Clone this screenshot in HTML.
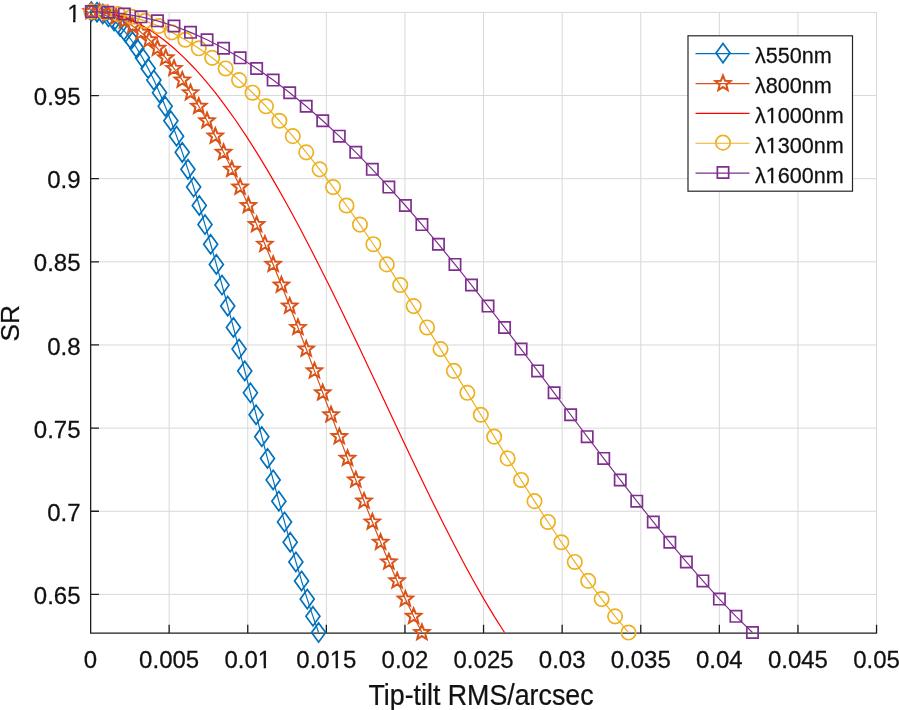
<!DOCTYPE html><html><head><meta charset="utf-8"><style>html,body{margin:0;padding:0;background:#fff;width:899px;height:710px;overflow:hidden}svg{display:block}text{font-family:"Liberation Sans",Arial,sans-serif;fill:#111111;stroke:#111111;stroke-width:0.25px}</style></head><body>
<svg width="899" height="710" viewBox="0 0 899 710">
<rect width="899" height="710" fill="#fff"/>
<path d="M169.15 12.4V633.1M247.75 12.4V633.1M326.35 12.4V633.1M404.95 12.4V633.1M483.55 12.4V633.1M562.15 12.4V633.1M640.75 12.4V633.1M719.35 12.4V633.1M797.95 12.4V633.1M876.55 12.4V633.1M90.55 12.40H876.55M90.55 95.54H876.55M90.55 178.69H876.55M90.55 261.83H876.55M90.55 344.97H876.55M90.55 428.11H876.55M90.55 511.26H876.55M90.55 594.40H876.55" stroke="#d8d8d8" stroke-width="1" fill="none"/>
<path d="M90.65 11.8V633.1H877.15M90.65 12.40H98.95M90.65 95.54H98.95M90.65 178.69H98.95M90.65 261.83H98.95M90.65 344.97H98.95M90.65 428.11H98.95M90.65 511.26H98.95M90.65 594.40H98.95M169.15 633.1V624.80M247.75 633.1V624.80M326.35 633.1V624.80M404.95 633.1V624.80M483.55 633.1V624.80M562.15 633.1V624.80M640.75 633.1V624.80M719.35 633.1V624.80M797.95 633.1V624.80M876.55 633.1V624.80" stroke="#1c1c1c" stroke-width="1.3" fill="none"/>
<path d="M91.35,11.61 97.03,12.19 102.71,13.93 108.39,16.83 114.08,20.87 119.76,26.05 125.44,32.35 131.12,39.77 136.80,48.27 142.48,57.84 148.16,68.46 153.85,80.09 159.53,92.71 165.21,106.29 170.89,120.77 176.57,136.14 182.25,152.34 187.94,169.34 193.62,187.08 199.30,205.51 204.98,224.58 210.66,244.23 216.34,264.41 222.02,285.05 227.71,306.09 233.39,327.46 239.07,349.08 244.75,370.90 250.43,392.82 256.11,414.76 261.80,436.66 267.48,458.42 273.16,479.95 278.84,501.16 284.52,521.96 290.20,542.26 295.88,561.95 301.57,580.92 307.25,599.09 312.93,616.33 318.61,632.53" stroke="#0072BD" stroke-width="1.2" fill="none" stroke-linejoin="round"/>
<path d="M91.35 2.01L98.35 11.61L91.35 21.21L84.35 11.61ZM97.03 2.59L104.03 12.19L97.03 21.79L90.03 12.19ZM102.71 4.33L109.71 13.93L102.71 23.53L95.71 13.93ZM108.39 7.23L115.39 16.83L108.39 26.43L101.39 16.83ZM114.08 11.27L121.08 20.87L114.08 30.47L107.08 20.87ZM119.76 16.45L126.76 26.05L119.76 35.65L112.76 26.05ZM125.44 22.75L132.44 32.35L125.44 41.95L118.44 32.35ZM131.12 30.17L138.12 39.77L131.12 49.37L124.12 39.77ZM136.80 38.67L143.80 48.27L136.80 57.87L129.80 48.27ZM142.48 48.24L149.48 57.84L142.48 67.44L135.48 57.84ZM148.16 58.86L155.16 68.46L148.16 78.06L141.16 68.46ZM153.85 70.49L160.85 80.09L153.85 89.69L146.85 80.09ZM159.53 83.11L166.53 92.71L159.53 102.31L152.53 92.71ZM165.21 96.69L172.21 106.29L165.21 115.89L158.21 106.29ZM170.89 111.17L177.89 120.77L170.89 130.37L163.89 120.77ZM176.57 126.54L183.57 136.14L176.57 145.74L169.57 136.14ZM182.25 142.74L189.25 152.34L182.25 161.94L175.25 152.34ZM187.94 159.74L194.94 169.34L187.94 178.94L180.94 169.34ZM193.62 177.48L200.62 187.08L193.62 196.68L186.62 187.08ZM199.30 195.91L206.30 205.51L199.30 215.11L192.30 205.51ZM204.98 214.98L211.98 224.58L204.98 234.18L197.98 224.58ZM210.66 234.63L217.66 244.23L210.66 253.83L203.66 244.23ZM216.34 254.81L223.34 264.41L216.34 274.01L209.34 264.41ZM222.02 275.45L229.02 285.05L222.02 294.65L215.02 285.05ZM227.71 296.49L234.71 306.09L227.71 315.69L220.71 306.09ZM233.39 317.86L240.39 327.46L233.39 337.06L226.39 327.46ZM239.07 339.48L246.07 349.08L239.07 358.68L232.07 349.08ZM244.75 361.30L251.75 370.90L244.75 380.50L237.75 370.90ZM250.43 383.22L257.43 392.82L250.43 402.42L243.43 392.82ZM256.11 405.16L263.11 414.76L256.11 424.36L249.11 414.76ZM261.80 427.06L268.80 436.66L261.80 446.26L254.80 436.66ZM267.48 448.82L274.48 458.42L267.48 468.02L260.48 458.42ZM273.16 470.35L280.16 479.95L273.16 489.55L266.16 479.95ZM278.84 491.56L285.84 501.16L278.84 510.76L271.84 501.16ZM284.52 512.36L291.52 521.96L284.52 531.56L277.52 521.96ZM290.20 532.66L297.20 542.26L290.20 551.86L283.20 542.26ZM295.88 552.35L302.88 561.95L295.88 571.55L288.88 561.95ZM301.57 571.32L308.57 580.92L301.57 590.52L294.57 580.92ZM307.25 589.49L314.25 599.09L307.25 608.69L300.25 599.09ZM312.93 606.73L319.93 616.33L312.93 625.93L305.93 616.33ZM318.61 622.93L325.61 632.53L318.61 642.13L311.61 632.53Z" stroke="#0072BD" stroke-width="1.7" fill="none"/>
<path d="M91.35,11.61 99.61,12.19 107.88,13.93 116.14,16.83 124.41,20.87 132.67,26.05 140.93,32.35 149.20,39.77 157.46,48.27 165.73,57.84 173.99,68.46 182.25,80.09 190.52,92.71 198.78,106.29 207.05,120.77 215.31,136.14 223.57,152.34 231.84,169.34 240.10,187.08 248.37,205.51 256.63,224.58 264.89,244.23 273.16,264.41 281.42,285.05 289.69,306.09 297.95,327.46 306.21,349.08 314.48,370.90 322.74,392.82 331.01,414.76 339.27,436.66 347.53,458.42 355.80,479.95 364.06,501.16 372.33,521.96 380.59,542.26 388.85,561.95 397.12,580.92 405.38,599.09 413.65,616.33 421.91,632.53" stroke="#D95319" stroke-width="1.2" fill="none" stroke-linejoin="round"/>
<path d="M91.35 3.61L93.41 8.78L98.96 9.14L94.68 12.69L96.05 18.08L91.35 15.11L86.65 18.08L88.02 12.69L83.74 9.14L89.29 8.78ZM99.61 4.19L101.67 9.36L107.22 9.72L102.94 13.27L104.32 18.66L99.61 15.69L94.91 18.66L96.29 13.27L92.01 9.72L97.56 9.36ZM107.88 5.93L109.94 11.10L115.49 11.46L111.21 15.01L112.58 20.40L107.88 17.43L103.18 20.40L104.55 15.01L100.27 11.46L105.82 11.10ZM116.14 8.83L118.20 13.99L123.75 14.35L119.47 17.91L120.84 23.30L116.14 20.33L111.44 23.30L112.81 17.91L108.53 14.35L114.08 13.99ZM124.41 12.87L126.46 18.04L132.01 18.40L127.73 21.95L129.11 27.34L124.41 24.37L119.70 27.34L121.08 21.95L116.80 18.40L122.35 18.04ZM132.67 18.05L134.73 23.22L140.28 23.58L136.00 27.13L137.37 32.52L132.67 29.55L127.97 32.52L129.34 27.13L125.06 23.58L130.61 23.22ZM140.93 24.35L142.99 29.52L148.54 29.88L144.26 33.44L145.64 38.83L140.93 35.85L136.23 38.83L137.61 33.44L133.33 29.88L138.88 29.52ZM149.20 31.77L151.26 36.94L156.81 37.30L152.53 40.85L153.90 46.24L149.20 43.27L144.50 46.24L145.87 40.85L141.59 37.30L147.14 36.94ZM157.46 40.27L159.52 45.44L165.07 45.80L160.79 49.35L162.16 54.74L157.46 51.77L152.76 54.74L154.13 49.35L149.85 45.80L155.40 45.44ZM165.73 49.84L167.78 55.01L173.33 55.37L169.05 58.93L170.43 64.32L165.73 61.34L161.02 64.32L162.40 58.93L158.12 55.37L163.67 55.01ZM173.99 60.46L176.05 65.63L181.60 65.99L177.32 69.54L178.69 74.93L173.99 71.96L169.29 74.93L170.66 69.54L166.38 65.99L171.93 65.63ZM182.25 72.09L184.31 77.26L189.86 77.62L185.58 81.18L186.96 86.57L182.25 83.59L177.55 86.57L178.93 81.18L174.65 77.62L180.20 77.26ZM190.52 84.71L192.58 89.88L198.13 90.24L193.85 93.79L195.22 99.19L190.52 96.21L185.82 99.19L187.19 93.79L182.91 90.24L188.46 89.88ZM198.78 98.29L200.84 103.45L206.39 103.81L202.11 107.37L203.48 112.76L198.78 109.79L194.08 112.76L195.45 107.37L191.17 103.81L196.72 103.45ZM207.05 112.77L209.10 117.94L214.65 118.30L210.37 121.86L211.75 127.25L207.05 124.27L202.34 127.25L203.72 121.86L199.44 118.30L204.99 117.94ZM215.31 128.14L217.37 133.31L222.92 133.67L218.64 137.22L220.01 142.61L215.31 139.64L210.61 142.61L211.98 137.22L207.70 133.67L213.25 133.31ZM223.57 144.34L225.63 149.51L231.18 149.87L226.90 153.43L228.28 158.82L223.57 155.84L218.87 158.82L220.25 153.43L215.97 149.87L221.52 149.51ZM231.84 161.34L233.90 166.51L239.45 166.87L235.17 170.42L236.54 175.81L231.84 172.84L227.14 175.81L228.51 170.42L224.23 166.87L229.78 166.51ZM240.10 179.08L242.16 184.25L247.71 184.60L243.43 188.16L244.80 193.55L240.10 190.58L235.40 193.55L236.77 188.16L232.49 184.60L238.04 184.25ZM248.37 197.51L250.42 202.68L255.97 203.04L251.69 206.59L253.07 211.98L248.37 209.01L243.66 211.98L245.04 206.59L240.76 203.04L246.31 202.68ZM256.63 216.58L258.69 221.75L264.24 222.11L259.96 225.66L261.33 231.05L256.63 228.08L251.93 231.05L253.30 225.66L249.02 222.11L254.57 221.75ZM264.89 236.23L266.95 241.40L272.50 241.76L268.22 245.31L269.60 250.71L264.89 247.73L260.19 250.71L261.57 245.31L257.29 241.76L262.84 241.40ZM273.16 256.41L275.22 261.58L280.77 261.94L276.49 265.49L277.86 270.88L273.16 267.91L268.46 270.88L269.83 265.49L265.55 261.94L271.10 261.58ZM281.42 277.05L283.48 282.22L289.03 282.58L284.75 286.13L286.12 291.52L281.42 288.55L276.72 291.52L278.09 286.13L273.81 282.58L279.36 282.22ZM289.69 298.09L291.74 303.26L297.29 303.62L293.01 307.17L294.39 312.56L289.69 309.59L284.98 312.56L286.36 307.17L282.08 303.62L287.63 303.26ZM297.95 319.46L300.01 324.63L305.56 324.99L301.28 328.54L302.65 333.93L297.95 330.96L293.25 333.93L294.62 328.54L290.34 324.99L295.89 324.63ZM306.21 341.08L308.27 346.25L313.82 346.61L309.54 350.17L310.92 355.56L306.21 352.58L301.51 355.56L302.89 350.17L298.61 346.61L304.16 346.25ZM314.48 362.90L316.54 368.06L322.09 368.42L317.81 371.98L319.18 377.37L314.48 374.40L309.78 377.37L311.15 371.98L306.87 368.42L312.42 368.06ZM322.74 384.82L324.80 389.98L330.35 390.34L326.07 393.90L327.44 399.29L322.74 396.32L318.04 399.29L319.41 393.90L315.13 390.34L320.68 389.98ZM331.01 406.76L333.06 411.93L338.61 412.29L334.33 415.85L335.71 421.24L331.01 418.26L326.30 421.24L327.68 415.85L323.40 412.29L328.95 411.93ZM339.27 428.66L341.33 433.83L346.88 434.19L342.60 437.74L343.97 443.13L339.27 440.16L334.57 443.13L335.94 437.74L331.66 434.19L337.21 433.83ZM347.53 450.42L349.59 455.59L355.14 455.94L350.86 459.50L352.24 464.89L347.53 461.92L342.83 464.89L344.21 459.50L339.93 455.94L345.48 455.59ZM355.80 471.95L357.86 477.12L363.41 477.48L359.13 481.03L360.50 486.42L355.80 483.45L351.10 486.42L352.47 481.03L348.19 477.48L353.74 477.12ZM364.06 493.16L366.12 498.33L371.67 498.69L367.39 502.24L368.76 507.63L364.06 504.66L359.36 507.63L360.73 502.24L356.45 498.69L362.00 498.33ZM372.33 513.96L374.38 519.13L379.93 519.49L375.65 523.05L377.03 528.44L372.33 525.46L367.62 528.44L369.00 523.05L364.72 519.49L370.27 519.13ZM380.59 534.26L382.65 539.43L388.20 539.79L383.92 543.34L385.29 548.73L380.59 545.76L375.89 548.73L377.26 543.34L372.98 539.79L378.53 539.43ZM388.85 553.95L390.91 559.12L396.46 559.48L392.18 563.03L393.56 568.42L388.85 565.45L384.15 568.42L385.53 563.03L381.25 559.48L386.80 559.12ZM397.12 572.92L399.18 578.09L404.73 578.45L400.45 582.01L401.82 587.40L397.12 584.42L392.42 587.40L393.79 582.01L389.51 578.45L395.06 578.09ZM405.38 591.09L407.44 596.26L412.99 596.61L408.71 600.17L410.08 605.56L405.38 602.59L400.68 605.56L402.05 600.17L397.77 596.61L403.32 596.26ZM413.65 608.33L415.70 613.49L421.25 613.85L416.97 617.41L418.35 622.80L413.65 619.83L408.94 622.80L410.32 617.41L406.04 613.85L411.59 613.49ZM421.91 624.53L423.97 629.70L429.52 630.06L425.24 633.61L426.61 639.00L421.91 636.03L417.21 639.00L418.58 633.61L414.30 630.06L419.85 629.70Z" stroke="#D95319" stroke-width="2.0" fill="none"/>
<path d="M91.35,11.61 101.68,12.19 112.01,13.93 122.34,16.83 132.67,20.87 143.00,26.05 153.33,32.35 163.66,39.77 173.99,48.27 184.32,57.84 194.65,68.46 204.98,80.09 215.31,92.71 225.64,106.29 235.97,120.77 246.30,136.14 256.63,152.34 266.96,169.34 277.29,187.08 287.62,205.51 297.95,224.58 308.28,244.23 318.61,264.41 328.94,285.05 339.27,306.09 349.60,327.46 359.93,349.08 370.26,370.90 380.59,392.82 390.92,414.76 401.25,436.66 411.58,458.42 421.91,479.95 432.24,501.16 442.57,521.96 452.90,542.26 463.23,561.95 473.56,580.92 483.89,599.09 494.22,616.33 504.55,632.53" stroke="#FF0000" stroke-width="1.2" fill="none" stroke-linejoin="round"/>
<path d="M91.35,11.61 104.78,12.19 118.21,13.93 131.64,16.83 145.07,20.87 158.50,26.05 171.92,32.35 185.35,39.77 198.78,48.27 212.21,57.84 225.64,68.46 239.07,80.09 252.50,92.71 265.93,106.29 279.36,120.77 292.78,136.14 306.21,152.34 319.64,169.34 333.07,187.08 346.50,205.51 359.93,224.58 373.36,244.23 386.79,264.41 400.22,285.05 413.65,306.09 427.07,327.46 440.50,349.08 453.93,370.90 467.36,392.82 480.79,414.76 494.22,436.66 507.65,458.42 521.08,479.95 534.51,501.16 547.94,521.96 561.37,542.26 574.79,561.95 588.22,580.92 601.65,599.09 615.08,616.33 628.51,632.53" stroke="#EDB120" stroke-width="1.2" fill="none" stroke-linejoin="round"/>
<path d="M84.15 11.61a7.2 7.2 0 1 0 14.4 0a7.2 7.2 0 1 0 -14.4 0ZM97.58 12.19a7.2 7.2 0 1 0 14.4 0a7.2 7.2 0 1 0 -14.4 0ZM111.01 13.93a7.2 7.2 0 1 0 14.4 0a7.2 7.2 0 1 0 -14.4 0ZM124.44 16.83a7.2 7.2 0 1 0 14.4 0a7.2 7.2 0 1 0 -14.4 0ZM137.87 20.87a7.2 7.2 0 1 0 14.4 0a7.2 7.2 0 1 0 -14.4 0ZM151.30 26.05a7.2 7.2 0 1 0 14.4 0a7.2 7.2 0 1 0 -14.4 0ZM164.72 32.35a7.2 7.2 0 1 0 14.4 0a7.2 7.2 0 1 0 -14.4 0ZM178.15 39.77a7.2 7.2 0 1 0 14.4 0a7.2 7.2 0 1 0 -14.4 0ZM191.58 48.27a7.2 7.2 0 1 0 14.4 0a7.2 7.2 0 1 0 -14.4 0ZM205.01 57.84a7.2 7.2 0 1 0 14.4 0a7.2 7.2 0 1 0 -14.4 0ZM218.44 68.46a7.2 7.2 0 1 0 14.4 0a7.2 7.2 0 1 0 -14.4 0ZM231.87 80.09a7.2 7.2 0 1 0 14.4 0a7.2 7.2 0 1 0 -14.4 0ZM245.30 92.71a7.2 7.2 0 1 0 14.4 0a7.2 7.2 0 1 0 -14.4 0ZM258.73 106.29a7.2 7.2 0 1 0 14.4 0a7.2 7.2 0 1 0 -14.4 0ZM272.16 120.77a7.2 7.2 0 1 0 14.4 0a7.2 7.2 0 1 0 -14.4 0ZM285.58 136.14a7.2 7.2 0 1 0 14.4 0a7.2 7.2 0 1 0 -14.4 0ZM299.01 152.34a7.2 7.2 0 1 0 14.4 0a7.2 7.2 0 1 0 -14.4 0ZM312.44 169.34a7.2 7.2 0 1 0 14.4 0a7.2 7.2 0 1 0 -14.4 0ZM325.87 187.08a7.2 7.2 0 1 0 14.4 0a7.2 7.2 0 1 0 -14.4 0ZM339.30 205.51a7.2 7.2 0 1 0 14.4 0a7.2 7.2 0 1 0 -14.4 0ZM352.73 224.58a7.2 7.2 0 1 0 14.4 0a7.2 7.2 0 1 0 -14.4 0ZM366.16 244.23a7.2 7.2 0 1 0 14.4 0a7.2 7.2 0 1 0 -14.4 0ZM379.59 264.41a7.2 7.2 0 1 0 14.4 0a7.2 7.2 0 1 0 -14.4 0ZM393.02 285.05a7.2 7.2 0 1 0 14.4 0a7.2 7.2 0 1 0 -14.4 0ZM406.45 306.09a7.2 7.2 0 1 0 14.4 0a7.2 7.2 0 1 0 -14.4 0ZM419.87 327.46a7.2 7.2 0 1 0 14.4 0a7.2 7.2 0 1 0 -14.4 0ZM433.30 349.08a7.2 7.2 0 1 0 14.4 0a7.2 7.2 0 1 0 -14.4 0ZM446.73 370.90a7.2 7.2 0 1 0 14.4 0a7.2 7.2 0 1 0 -14.4 0ZM460.16 392.82a7.2 7.2 0 1 0 14.4 0a7.2 7.2 0 1 0 -14.4 0ZM473.59 414.76a7.2 7.2 0 1 0 14.4 0a7.2 7.2 0 1 0 -14.4 0ZM487.02 436.66a7.2 7.2 0 1 0 14.4 0a7.2 7.2 0 1 0 -14.4 0ZM500.45 458.42a7.2 7.2 0 1 0 14.4 0a7.2 7.2 0 1 0 -14.4 0ZM513.88 479.95a7.2 7.2 0 1 0 14.4 0a7.2 7.2 0 1 0 -14.4 0ZM527.31 501.16a7.2 7.2 0 1 0 14.4 0a7.2 7.2 0 1 0 -14.4 0ZM540.74 521.96a7.2 7.2 0 1 0 14.4 0a7.2 7.2 0 1 0 -14.4 0ZM554.16 542.26a7.2 7.2 0 1 0 14.4 0a7.2 7.2 0 1 0 -14.4 0ZM567.59 561.95a7.2 7.2 0 1 0 14.4 0a7.2 7.2 0 1 0 -14.4 0ZM581.02 580.92a7.2 7.2 0 1 0 14.4 0a7.2 7.2 0 1 0 -14.4 0ZM594.45 599.09a7.2 7.2 0 1 0 14.4 0a7.2 7.2 0 1 0 -14.4 0ZM607.88 616.33a7.2 7.2 0 1 0 14.4 0a7.2 7.2 0 1 0 -14.4 0ZM621.31 632.53a7.2 7.2 0 1 0 14.4 0a7.2 7.2 0 1 0 -14.4 0Z" stroke="#EDB120" stroke-width="1.7" fill="none"/>
<path d="M91.35,11.61 107.88,12.19 124.41,13.93 140.93,16.83 157.46,20.87 173.99,26.05 190.52,32.35 207.05,39.77 223.57,48.27 240.10,57.84 256.63,68.46 273.16,80.09 289.69,92.71 306.21,106.29 322.74,120.77 339.27,136.14 355.80,152.34 372.33,169.34 388.85,187.08 405.38,205.51 421.91,224.58 438.44,244.23 454.97,264.41 471.49,285.05 488.02,306.09 504.55,327.46 521.08,349.08 537.61,370.90 554.13,392.82 570.66,414.76 587.19,436.66 603.72,458.42 620.25,479.95 636.77,501.16 653.30,521.96 669.83,542.26 686.36,561.95 702.89,580.92 719.41,599.09 735.94,616.33 752.47,632.53" stroke="#7E2F8E" stroke-width="1.2" fill="none" stroke-linejoin="round"/>
<path d="M85.70 5.96H97.00V17.26H85.70ZM102.23 6.54H113.53V17.84H102.23ZM118.76 8.28H130.06V19.58H118.76ZM135.28 11.18H146.58V22.48H135.28ZM151.81 15.22H163.11V26.52H151.81ZM168.34 20.40H179.64V31.70H168.34ZM184.87 26.70H196.17V38.00H184.87ZM201.40 34.12H212.70V45.42H201.40ZM217.92 42.62H229.22V53.92H217.92ZM234.45 52.19H245.75V63.49H234.45ZM250.98 62.81H262.28V74.11H250.98ZM267.51 74.44H278.81V85.74H267.51ZM284.04 87.06H295.34V98.36H284.04ZM300.56 100.64H311.86V111.94H300.56ZM317.09 115.12H328.39V126.42H317.09ZM333.62 130.49H344.92V141.79H333.62ZM350.15 146.69H361.45V157.99H350.15ZM366.68 163.69H377.98V174.99H366.68ZM383.20 181.43H394.50V192.73H383.20ZM399.73 199.86H411.03V211.16H399.73ZM416.26 218.93H427.56V230.23H416.26ZM432.79 238.58H444.09V249.88H432.79ZM449.32 258.76H460.62V270.06H449.32ZM465.84 279.40H477.14V290.70H465.84ZM482.37 300.44H493.67V311.74H482.37ZM498.90 321.81H510.20V333.11H498.90ZM515.43 343.43H526.73V354.73H515.43ZM531.96 365.25H543.26V376.55H531.96ZM548.48 387.17H559.78V398.47H548.48ZM565.01 409.11H576.31V420.41H565.01ZM581.54 431.01H592.84V442.31H581.54ZM598.07 452.77H609.37V464.07H598.07ZM614.60 474.30H625.90V485.60H614.60ZM631.12 495.51H642.42V506.81H631.12ZM647.65 516.31H658.95V527.61H647.65ZM664.18 536.61H675.48V547.91H664.18ZM680.71 556.30H692.01V567.60H680.71ZM697.24 575.27H708.54V586.57H697.24ZM713.76 593.44H725.06V604.74H713.76ZM730.29 610.68H741.59V621.98H730.29ZM746.82 626.88H758.12V638.18H746.82Z" stroke="#7E2F8E" stroke-width="1.7" fill="none"/>
<g transform="translate(80.50 21.99) scale(1.0 1.03)"><text class="t0" x="0" y="0" font-size="24" text-anchor="end">1</text><rect x="-12.48" y="-2.69" width="5.04" height="3.79" fill="#fff"/><rect x="-5.08" y="-2.69" width="4.85" height="3.79" fill="#fff"/></g>
<g transform="translate(80.50 105.14) scale(1.0 1.03)"><text class="t1" x="0" y="0" font-size="24" text-anchor="end">0.95</text></g>
<g transform="translate(80.50 188.28) scale(1.0 1.03)"><text class="t2" x="0" y="0" font-size="24" text-anchor="end">0.9</text></g>
<g transform="translate(80.50 271.42) scale(1.0 1.03)"><text class="t3" x="0" y="0" font-size="24" text-anchor="end">0.85</text></g>
<g transform="translate(80.50 354.56) scale(1.0 1.03)"><text class="t4" x="0" y="0" font-size="24" text-anchor="end">0.8</text></g>
<g transform="translate(80.50 437.71) scale(1.0 1.03)"><text class="t5" x="0" y="0" font-size="24" text-anchor="end">0.75</text></g>
<g transform="translate(80.50 520.85) scale(1.0 1.03)"><text class="t6" x="0" y="0" font-size="24" text-anchor="end">0.7</text></g>
<g transform="translate(80.50 603.99) scale(1.0 1.03)"><text class="t7" x="0" y="0" font-size="24" text-anchor="end">0.65</text></g>
<g transform="translate(90.55 668.30) scale(1.0 1.03)"><text class="t8" x="0" y="0" font-size="24" text-anchor="middle">0</text></g>
<g transform="translate(169.15 668.30) scale(1.0 1.03)"><text class="t9" x="0" y="0" font-size="24" text-anchor="middle">0.005</text></g>
<g transform="translate(247.75 668.30) scale(1.0 1.03)"><text class="t10" x="0" y="0" font-size="24" text-anchor="middle">0.01</text><rect x="10.88" y="-2.69" width="5.04" height="3.79" fill="#fff"/><rect x="18.27" y="-2.69" width="4.85" height="3.79" fill="#fff"/></g>
<g transform="translate(326.35 668.30) scale(1.0 1.03)"><text class="t11" x="0" y="0" font-size="24" text-anchor="middle">0.015</text><rect x="4.20" y="-2.69" width="5.04" height="3.79" fill="#fff"/><rect x="11.60" y="-2.69" width="4.85" height="3.79" fill="#fff"/></g>
<g transform="translate(404.95 668.30) scale(1.0 1.03)"><text class="t12" x="0" y="0" font-size="24" text-anchor="middle">0.02</text></g>
<g transform="translate(483.55 668.30) scale(1.0 1.03)"><text class="t13" x="0" y="0" font-size="24" text-anchor="middle">0.025</text></g>
<g transform="translate(562.15 668.30) scale(1.0 1.03)"><text class="t14" x="0" y="0" font-size="24" text-anchor="middle">0.03</text></g>
<g transform="translate(640.75 668.30) scale(1.0 1.03)"><text class="t15" x="0" y="0" font-size="24" text-anchor="middle">0.035</text></g>
<g transform="translate(719.35 668.30) scale(1.0 1.03)"><text class="t16" x="0" y="0" font-size="24" text-anchor="middle">0.04</text></g>
<g transform="translate(797.95 668.30) scale(1.0 1.03)"><text class="t17" x="0" y="0" font-size="24" text-anchor="middle">0.045</text></g>
<g transform="translate(876.55 668.30) scale(1.0 1.03)"><text class="t18" x="0" y="0" font-size="24" text-anchor="middle">0.05</text></g>
<g transform="translate(481.00 705.30) scale(0.93 1.0)"><text class="t19" x="0" y="0" font-size="28.8" text-anchor="middle">Tip-tilt RMS/arcsec</text></g>
<text transform="translate(18.6 323.35) rotate(-90)" font-size="26.3" text-anchor="middle">SR</text>
<rect x="688.0" y="35.8" width="164.5" height="155.4" fill="#fff" stroke="#262626" stroke-width="1.2"/>
<path d="M695.5 53.70H749.5" stroke="#0072BD" stroke-width="1.2"/>
<path d="M723.00 43.50L730.00 53.10L723.00 62.70L716.00 53.10Z" stroke="#0072BD" stroke-width="1.7" fill="none"/>
<g transform="translate(755.00 63.28) scale(1 1.03)"><text class="t20" x="0" y="0" font-size="21.6" text-anchor="start">λ550nm</text></g>
<path d="M695.5 83.55H749.5" stroke="#D95319" stroke-width="1.2"/>
<path d="M723.00 75.55L725.06 80.72L730.61 81.08L726.33 84.63L727.70 90.02L723.00 87.05L718.30 90.02L719.67 84.63L715.39 81.08L720.94 80.72Z" stroke="#D95319" stroke-width="2.0" fill="none"/>
<g transform="translate(755.00 93.13) scale(1 1.03)"><text class="t21" x="0" y="0" font-size="21.6" text-anchor="start">λ800nm</text></g>
<path d="M695.5 113.40H749.5" stroke="#FF0000" stroke-width="1.2"/>
<g transform="translate(755.00 122.98) scale(1 1.03)"><text class="t22" x="0" y="0" font-size="21.6" text-anchor="start">λ1000nm</text><rect x="11.49" y="-2.51" width="4.62" height="3.61" fill="#fff"/><rect x="18.25" y="-2.51" width="4.45" height="3.61" fill="#fff"/></g>
<path d="M695.5 143.25H749.5" stroke="#EDB120" stroke-width="1.2"/>
<path d="M715.80 142.65a7.2 7.2 0 1 0 14.4 0a7.2 7.2 0 1 0 -14.4 0Z" stroke="#EDB120" stroke-width="1.7" fill="none"/>
<g transform="translate(755.00 152.83) scale(1 1.03)"><text class="t23" x="0" y="0" font-size="21.6" text-anchor="start">λ1300nm</text><rect x="11.49" y="-2.51" width="4.62" height="3.61" fill="#fff"/><rect x="18.25" y="-2.51" width="4.45" height="3.61" fill="#fff"/></g>
<path d="M695.5 173.10H749.5" stroke="#7E2F8E" stroke-width="1.2"/>
<path d="M717.35 166.85H728.65V178.15H717.35Z" stroke="#7E2F8E" stroke-width="1.7" fill="none"/>
<g transform="translate(755.00 182.68) scale(1 1.03)"><text class="t24" x="0" y="0" font-size="21.6" text-anchor="start">λ1600nm</text><rect x="11.49" y="-2.51" width="4.62" height="3.61" fill="#fff"/><rect x="18.25" y="-2.51" width="4.45" height="3.61" fill="#fff"/></g>
</svg></body></html>
